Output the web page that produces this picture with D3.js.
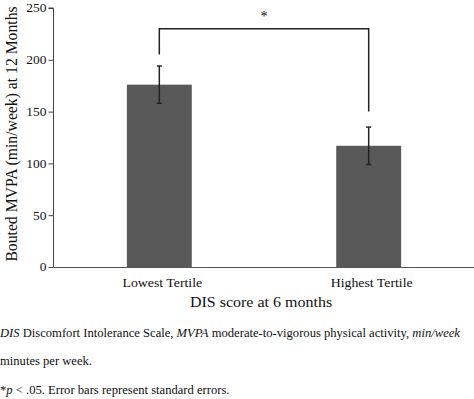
<!DOCTYPE html>
<html><head><meta charset="utf-8">
<script src="https://cdn.jsdelivr.net/npm/d3@7"></script>
<style>body{margin:0;background:#fff}svg{display:block}text{font-family:"Liberation Serif","Times New Roman",serif;fill:#111}</style>
</head><body><svg id="c" width="474" height="399"></svg>
<script>
const categories = ["Lowest Tertile", "Highest Tertile"];
const means = [176, 117];
const errors = [18, 18];
const yTicks = [0, 50, 100, 150, 200, 250];
const bracket = {from: 0, to: 1, top: 230, leftEnd: 205, rightEnd: 150, label: "*"};
const yTitle = "Bouted MVPA (min/week) at 12 Months";
const xTitle = "DIS score at 6 months";

const svg = d3.select("#c");
const x0 = 53.5, x1 = 474, yTop = 8, yBot = 267;
const y = d3.scaleLinear().domain([0, 250]).range([yBot, yTop]);
const x = d3.scaleBand().domain(categories).range([54, 474]).paddingInner(0.69).paddingOuter(0.348);

function stretched(sel, tx, ty, sx, size) {
  return sel.attr("transform", `translate(${tx},${ty}) scale(${sx},1)`).style("font-size", size + "px");
}

// y axis
const sxT = 1.16;
const gy = svg.append("g").attr("transform", `translate(${x0},0)`)
  .call(d3.axisLeft(y).tickValues(yTicks).tickSize(5).tickPadding(2));
gy.selectAll(".tick text").attr("x", null).attr("dy", "0.34em")
  .attr("transform", `translate(-7,0) scale(${sxT},1)`)
  .style("font-size","11.6px").style("font-family",'"Liberation Serif",serif').attr("fill","#111");
gy.selectAll("line,path").attr("stroke","#444");
gy.select(".domain").attr("d", `M-5,${yTop}H0V${yBot}`);

// bars
svg.selectAll("rect.bar").data(categories).enter().append("rect")
  .attr("x", d => x(d)).attr("width", x.bandwidth())
  .attr("y", (d,i) => y(means[i])).attr("height", (d,i) => yBot - y(means[i]))
  .attr("fill", "#595959");

// x axis line
svg.append("line").attr("x1", x0).attr("x2", x1).attr("y1", yBot+0.5).attr("y2", yBot+0.5).attr("stroke","#555").attr("stroke-width",1.2);

// error bars
const eb = svg.selectAll("g.eb").data(categories).enter().append("g").attr("stroke","#222").attr("stroke-width",1.5);
eb.append("line").attr("x1", d => x(d)+x.bandwidth()/2).attr("x2", d => x(d)+x.bandwidth()/2)
  .attr("y1", (d,i) => y(means[i]+errors[i])).attr("y2", (d,i) => y(means[i]-errors[i]));
[1,-1].forEach(s => {
  eb.append("line").attr("x1", d => x(d)+x.bandwidth()/2-2.5).attr("x2", d => x(d)+x.bandwidth()/2+2.5)
    .attr("y1", (d,i) => y(means[i]+s*errors[i])).attr("y2", (d,i) => y(means[i]+s*errors[i]));
});

// bracket
const bxL = x(categories[bracket.from]) + x.bandwidth()/2;
const bxR = x(categories[bracket.to]) + x.bandwidth()/2;
svg.append("path").attr("fill","none").attr("stroke","#222").attr("stroke-width",1.5)
  .attr("d", `M${bxL},${y(bracket.leftEnd)}V${y(bracket.top)}H${bxR}V${y(bracket.rightEnd)}`);
svg.append("text").attr("x", (bxL+bxR)/2).attr("y", y(bracket.top)-8).attr("text-anchor","middle")
  .style("font-size","14px").text(bracket.label);

// x labels
svg.selectAll("text.xl").data(categories).enter().append("text")
  .attr("text-anchor","middle")
  .attr("transform", d => `translate(${x(d)+x.bandwidth()/2+3},286.5) scale(1.17,1)`)
  .style("font-size","11.8px").text(d => d);
stretched(svg.append("text").attr("text-anchor","middle"), 261, 306.5, 1.12, 14.3).text(xTitle);
svg.append("text").attr("transform", `translate(16.5,134) rotate(-90)`).attr("text-anchor","middle")
  .style("font-size","15.7px").text(yTitle);

// caption
const cap = svg.append("g").style("font-size","12.6px");
const l1 = cap.append("text").attr("x", 0).attr("y", 336.5);
l1.append("tspan").style("font-style","italic").text("DIS");
l1.append("tspan").text(" Discomfort Intolerance Scale, ");
l1.append("tspan").style("font-style","italic").text("MVPA");
l1.append("tspan").text(" moderate-to-vigorous physical activity, ");
l1.append("tspan").style("font-style","italic").text("min/week");
cap.append("text").attr("x", 0).attr("y", 365).text("minutes per week.");
const l3 = cap.append("text").attr("x", 0).attr("y", 393.5);
l3.append("tspan").text("*");
l3.append("tspan").style("font-style","italic").text("p");
l3.append("tspan").text(" < .05. Error bars represent standard errors.");
</script></body></html>
